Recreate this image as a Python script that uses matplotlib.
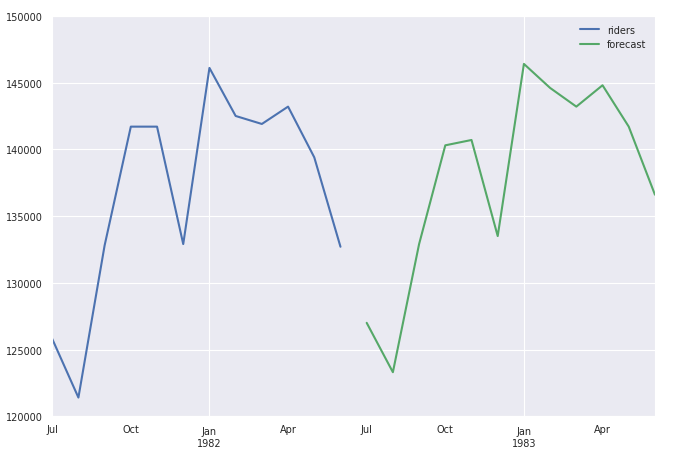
import matplotlib
matplotlib.use("Agg")
import matplotlib.pyplot as plt
import seaborn as sns
import pandas as pd

sns.set_style("darkgrid")
plt.rcParams['font.family'] = ['DejaVu Sans']

riders_dates = pd.period_range("1981-07", periods=12, freq="M")
riders = [125800, 121400, 132800, 141700, 141700, 132900, 146100, 142500, 141900, 143200, 139400, 132700]
forecast_dates = pd.period_range("1982-07", periods=12, freq="M")
forecast = [127000, 123300, 132900, 140300, 140700, 133500, 146400, 144600, 143200, 144800, 141700, 136600]

idx = pd.period_range("1981-07", "1983-06", freq="M")
df = pd.DataFrame(index=idx)
df["riders"] = pd.Series(riders, index=riders_dates)
df["forecast"] = pd.Series(forecast, index=forecast_dates)

fig, ax = plt.subplots(figsize=(6.78, 4.56), dpi=100)
df.plot(ax=ax, color=["#4c72b0", "#55a868"], linewidth=1.5)
ax.set_ylim(120000, 150000)
ax.tick_params(labelsize=7)
for t in ax.get_xticklabels(minor=True):
    t.set_fontsize(7)
ax.set_xlabel("")
ax.legend(fontsize=7, frameon=False, loc="upper right")
fig.subplots_adjust(left=0.077, right=0.966, top=0.963, bottom=0.085)
fig.savefig("out.png")
